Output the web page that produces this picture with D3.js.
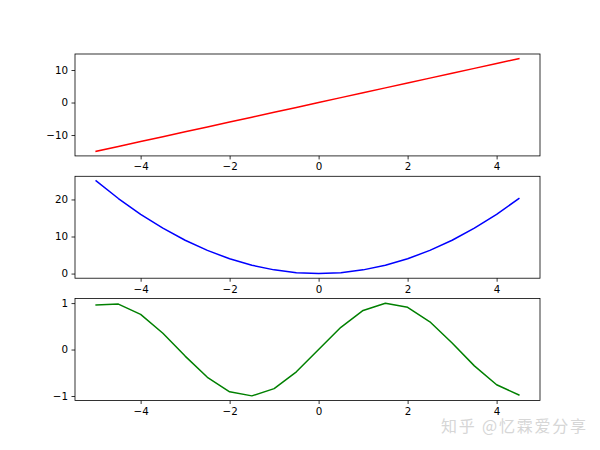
<!DOCTYPE html>
<html>
<head>
<meta charset="utf-8">
<script src="https://cdn.jsdelivr.net/npm/d3@7"></script>
<style>
  html, body { margin: 0; padding: 0; background: #fff; }
  svg { display: block; }
  .tick text { font-family: "DejaVu Sans", sans-serif; font-size: 10.3px; fill: #000; }
</style>
</head>
<body>
<svg id="chart" width="600" height="450"></svg>
<script>
// ---- data ----
const xValues = [-5, -4.5, -4, -3.5, -3, -2.5, -2, -1.5, -1, -0.5, 0, 0.5, 1, 1.5, 2, 2.5, 3, 3.5, 4, 4.5];
const linearValues = [-15, -13.5, -12, -10.5, -9, -7.5, -6, -4.5, -3, -1.5, 0, 1.5, 3, 4.5, 6, 7.5, 9, 10.5, 12, 13.5];
const squareValues = [25, 20.25, 16, 12.25, 9, 6.25, 4, 2.25, 1, 0.25, 0, 0.25, 1, 2.25, 4, 6.25, 9, 12.25, 16, 20.25];
const sineValues = [0.959, 0.978, 0.757, 0.351, -0.141, -0.598, -0.909, -0.997, -0.841, -0.479, 0, 0.479, 0.841, 0.997, 0.909, 0.598, 0.141, -0.351, -0.757, -0.978];
const xTicks = [-4, -2, 0, 2, 4];
const linearTicks = [-10, 0, 10];
const squareTicks = [0, 10, 20];
const sineTicks = [-1, 0, 1];
const watermark = "知乎 @忆霖爱分享";

// ---- layout ----
(function () {
const svg = d3.select("#chart");
const mLeft = 75, mRight = 540, mTop = 54, mBottom = 400.5;
const n = 3, hspace = 0.2;
const cellH = (mBottom - mTop) / (n + (n - 1) * hspace);
const gap = cellH * hspace;

function pad(ext) { const r = ext[1] - ext[0]; return [ext[0] - 0.05 * r, ext[1] + 0.05 * r]; }

const x = d3.scaleLinear().domain(pad(d3.extent(xValues))).range([mLeft, mRight]);

const panels = [
  { values: linearValues, ticks: linearTicks, color: "#ff0000" },
  { values: squareValues, ticks: squareTicks, color: "#0000ff" },
  { values: sineValues, ticks: sineTicks, color: "#008000" }
];

const fmt = d => (d < 0 ? "\u2212" + Math.abs(d) : String(d));

panels.forEach((p, i) => {
  const y0 = mTop + i * (cellH + gap);
  const y1 = y0 + cellH;
  const y = d3.scaleLinear().domain(pad(d3.extent(p.values))).range([y1, y0]);
  const g = svg.append("g");

  const clipId = "clip" + i;
  svg.append("clipPath").attr("id", clipId)
    .append("rect").attr("x", mLeft).attr("y", y0).attr("width", mRight - mLeft).attr("height", cellH);

  const line = d3.line().x((d, j) => x(xValues[j])).y(d => y(d));
  g.append("path")
    .datum(p.values)
    .attr("clip-path", "url(#" + clipId + ")")
    .attr("fill", "none")
    .attr("stroke", p.color)
    .attr("stroke-width", 1.5)
    .attr("stroke-linejoin", "round")
    .attr("stroke-linecap", "square")
    .attr("d", line);

  const xa = g.append("g").attr("transform", `translate(0,${y1})`)
    .call(d3.axisBottom(x).tickValues(xTicks).tickFormat(fmt).tickSize(3.5).tickPadding(3.5));
  xa.select(".domain").remove();
  xa.selectAll(".tick line").attr("stroke", "#000").attr("stroke-width", 0.8);

  const ya = g.append("g").attr("transform", `translate(${mLeft},0)`)
    .call(d3.axisLeft(y).tickValues(p.ticks).tickFormat(fmt).tickSize(3.5).tickPadding(3.5));
  ya.select(".domain").remove();
  ya.selectAll(".tick line").attr("stroke", "#000").attr("stroke-width", 0.8);

  g.append("rect")
    .attr("x", mLeft).attr("y", y0)
    .attr("width", mRight - mLeft).attr("height", cellH)
    .attr("fill", "none").attr("stroke", "#000").attr("stroke-width", 0.8);
});

svg.append("text")
  .attr("x", 441).attr("y", 432)
  .attr("text-anchor", "start")
  .attr("font-family", "'Noto Sans CJK SC', sans-serif")
  .attr("font-size", 16)
  .attr("letter-spacing", 1.8)
  .attr("fill", "#d6d6d6")
  .text(watermark);
})();
</script>
</body>
</html>
